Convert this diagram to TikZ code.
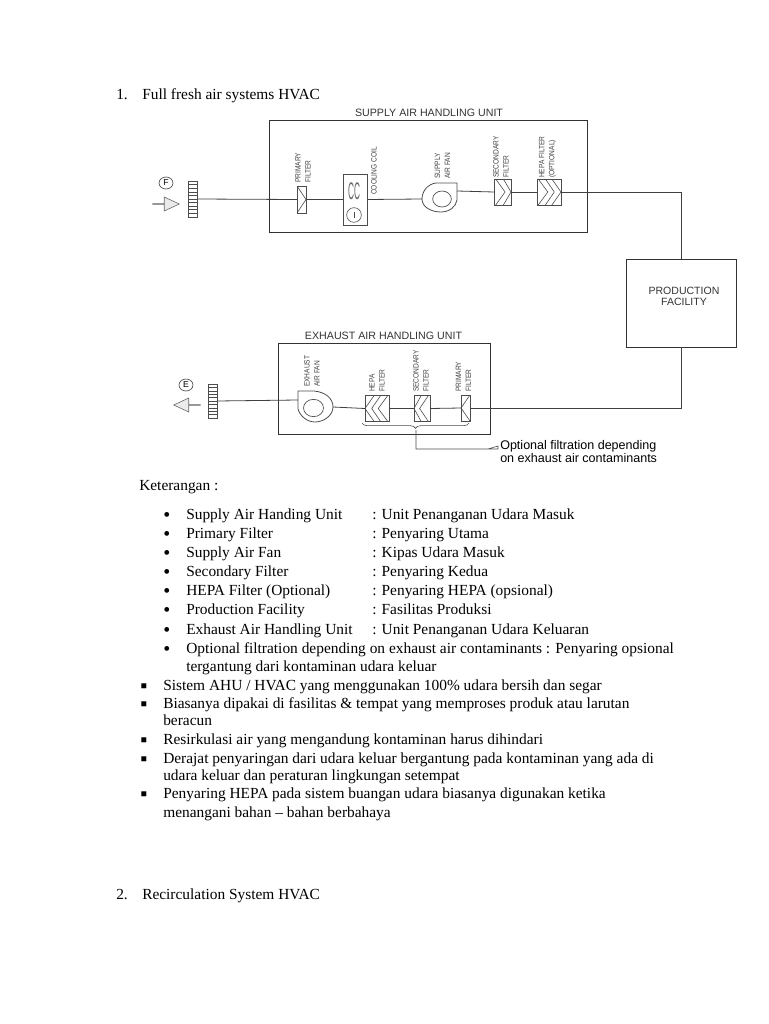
\documentclass[tikz,border=0pt]{standalone}
\usepackage{fontspec}
\setmainfont{Liberation Serif}
\setsansfont{Liberation Sans}
\usetikzlibrary{arrows.meta,positioning,calc,shapes.arrows,shapes.geometric,decorations.pathreplacing}
\newcommand{\chevron}[3]{\draw[thinline] ($(#1.north west)!#2!(#1.north east)$) -- ($(#1.west)!#3!(#1.east)$) -- ($(#1.south west)!#2!(#1.south east)$);}
\newcommand{\grilleribs}[1]{\foreach \f in {0.1,0.2,...,0.95} \draw[thinline] ($(#1.north west)!\f!(#1.south west)$) -- ($(#1.north east)!\f!(#1.south east)$);}
\begin{document}
\begin{tikzpicture}[
  x=0.75pt, y=-0.75pt,
  font=\fontsize{11.55}{13}\selectfont,
  thinline/.style={line width=0.45pt, black!70},
  arr/.style={line width=0.6pt, black!75},
  unitbox/.style={draw=black!80, line width=0.6pt, inner sep=0pt, outer sep=0pt},
  filterbox/.style={draw=black!70, line width=0.6pt, inner sep=0pt, outer sep=0pt},
  grille/.style={draw=black!70, line width=0.45pt, minimum width=6.75pt, inner sep=0pt, outer sep=0pt},
  bodytxt/.style={anchor=base west, inner sep=0pt, yshift=-0.75pt},
  dotmark/.style={bodytxt, font=\fontsize{15}{15}\selectfont, yshift=-1.5pt},
  sqmark/.style={bodytxt, font=\fontsize{15}{15}\selectfont, yshift=-1.5pt},
  unittitle/.style={font=\sffamily\fontsize{8}{9}\selectfont, black!80, inner sep=0pt},
  tag/.style={font=\sffamily\fontsize{5.8}{7.5}\selectfont, black!75, rotate=90, xscale=0.85, anchor=west, align=left, inner sep=0pt},
  badge/.style={draw=black!70, ellipse, line width=0.5pt, font=\sffamily\fontsize{6.5}{7}\selectfont, inner sep=0pt, minimum width=10.5pt, minimum height=9pt},
  hollow/.style={draw=black!60, fill=black!8, single arrow, single arrow head extend=3.5pt, line width=0.45pt, inner sep=0pt, minimum height=20pt, minimum width=10.5pt, single arrow tip angle=50},
]
\useasboundingbox (0,0) rectangle (768,1024);

% supply side
\node[bodytxt] (n1) at (116,98) {1.};
\node[bodytxt] (h1) at (142,98) {Full fresh air systems HVAC};
\node[unitbox, minimum width=238.5pt, minimum height=84pt] (sup) at (428,176) {};
\node[unittitle] (suptitle) at (429,113) {SUPPLY AIR HANDLING UNIT};
\node[grille, minimum height=27pt] (gf) at (192.5,199) {};
\grilleribs{gf}
\node[badge] (mf) at (166,183) {F};
\node[hollow] (af) at (165.5,204) {};
\node[filterbox, minimum width=6.75pt, minimum height=20.25pt] (pf) at (301.5,199.5) {};
\chevron{pf}{0}{1}
\node[tag] (pftag) at (303,183) {PRIMARY\\FILTER};
\node[filterbox, minimum width=18pt, minimum height=38.25pt] (coil) at (355,199.5) {};
\node[font=\sffamily\fontsize{10}{10}\selectfont, black!60, inner sep=0pt, xscale=0.62, yscale=1.8] (cc) at (354,191) {CC};
\node[draw=black!70, circle, line width=0.45pt, minimum size=11pt, inner sep=0pt] (cci) at (354,215) {};
\draw[thinline] ($(cci.north)!0.3!(cci.south)$) -- ($(cci.north)!0.7!(cci.south)$);
\node[tag] (cctag) at (374,195) {COOLING COIL};
\coordinate (safin) at (422,199);
\coordinate (safout) at (457,191);
\draw[filterbox] (457,183) -- (436,183) .. controls (428,184) and (422,191) .. (422,199) .. controls (422,207) and (431,212) .. (441,212) .. controls (449,212) and (456,207) .. (457,200) -- cycle;
\node[draw=black!70, ellipse, line width=0.5pt, minimum width=14pt, minimum height=12pt, inner sep=0pt] (saf) at (442,199) {};
\node[tag] (saftag) at (442.5,179) {SUPPLY\\AIR FAN};
\node[filterbox, minimum width=12.75pt, minimum height=19.5pt] (sf) at (502.5,192) {};
\chevron{sf}{0.1}{0.65}
\chevron{sf}{0.55}{1}
\node[tag] (sftag) at (501,178) {SECONDARY\\FILTER};
\node[filterbox, minimum width=18pt, minimum height=19.5pt] (hf) at (549,192) {};
\chevron{hf}{0.05}{0.45}
\chevron{hf}{0.35}{0.72}
\chevron{hf}{0.62}{1}
\node[tag] (hftag) at (547.5,178) {HEPA FILTER\\(OPTIONAL)};
\node[unitbox, minimum width=82.5pt, minimum height=66pt] (prod) at (681,303) {};
\node[font=\sffamily\fontsize{7.9}{8.4}\selectfont, align=center, black!80, inner sep=0pt] (prodtxt) at (684,296.5) {PRODUCTION\\FACILITY};
\draw[arr] (gf.east) -- (pf.west);
\draw[arr] (pf.east) -- (coil.west);
\draw[arr] (coil.east) -- (safin);
\draw[arr] (safout) -- (sf.west);
\draw[arr] (sf.east) -- (hf.west);
\draw[arr] (hf.east) -| (prod.north);

% exhaust side
\node[unitbox, minimum width=159pt, minimum height=68.25pt] (exh) at (384,388.5) {};
\node[unittitle] (exhtitle) at (383.5,336) {EXHAUST AIR HANDLING UNIT};
\node[grille, minimum height=25.5pt] (ge) at (212.5,401) {};
\grilleribs{ge}
\node[badge] (me) at (186,385) {E};
\node[hollow, shape border rotate=180] (ae) at (187.5,405) {};
\coordinate (eafin) at (333,407);
\coordinate (eafout) at (298,400);
\draw[filterbox] (298,391) -- (314,391) .. controls (325,392) and (333,398) .. (333,407) .. controls (333,416) and (323,422) .. (315,422) .. controls (307,422) and (300,416) .. (298,409) -- cycle;
\node[draw=black!70, ellipse, line width=0.5pt, minimum width=15pt, minimum height=13pt, inner sep=0pt] (eaf) at (313.5,408) {};
\node[tag] (eaftag) at (312,387) {EXHAUST\\AIR FAN};
\node[filterbox, minimum width=18pt, minimum height=19.5pt] (he) at (377,408.5) {};
\chevron{he}{0.95}{0.55}
\chevron{he}{0.65}{0.28}
\chevron{he}{0.38}{0}
\node[tag] (hetag) at (377,392) {HEPA\\FILTER};
\node[filterbox, minimum width=12pt, minimum height=19.5pt] (se) at (422,408.5) {};
\chevron{se}{0.9}{0.35}
\chevron{se}{0.45}{0}
\node[tag] (setag) at (421,392) {SECONDARY\\FILTER};
\node[filterbox, minimum width=6.75pt, minimum height=19.5pt] (pe) at (465.5,408) {};
\chevron{pe}{1}{0}
\node[tag] (petag) at (463.5,392) {PRIMARY\\FILTER};
\draw[arr] (ge.east) -- (eafout);
\draw[arr] (eafin) -- (he.west);
\draw[arr] (he.east) -- (se.west);
\draw[arr] (se.east) -- (pe.west);
\draw[arr] (prod.south) |- (pe.east);

% optional filtration note
\coordinate (brl) at (362,423);
\coordinate (brr) at (469,423);
\draw[thinline, decorate, decoration={brace, mirror, amplitude=4pt}] (brl) -- (brr);
\node[font=\sffamily\fontsize{9.4}{9.8}\selectfont, align=left, anchor=north west, inner sep=0pt] (opt) at (500,440) {Optional filtration depending\\on exhaust air contaminants};
\coordinate (brtip) at (416,430);
\coordinate (ldr) at (488,449);
\draw[thinline] (brtip) |- (ldr) -- (498,446) -- (498,449) -- (ldr);

% notes
\node[bodytxt] (ket) at (139,489) {Keterangan :};
\node[dotmark] (b1) at (163,518) {•};
\node[bodytxt] (k1) at (186,518) {Supply Air Handing Unit};
\node[bodytxt] (v1) at (372,518) {: Unit Penanganan Udara Masuk};
\node[dotmark] (b2) at (163,537) {•};
\node[bodytxt] (k2) at (186,537) {Primary Filter};
\node[bodytxt] (v2) at (372,537) {: Penyaring Utama};
\node[dotmark] (b3) at (163,556) {•};
\node[bodytxt] (k3) at (186,556) {Supply Air Fan};
\node[bodytxt] (v3) at (372,556) {: Kipas Udara Masuk};
\node[dotmark] (b4) at (163,575) {•};
\node[bodytxt] (k4) at (186,575) {Secondary Filter};
\node[bodytxt] (v4) at (372,575) {: Penyaring Kedua};
\node[dotmark] (b5) at (163,594) {•};
\node[bodytxt] (k5) at (186,594) {HEPA Filter (Optional)};
\node[bodytxt] (v5) at (372,594) {: Penyaring HEPA (opsional)};
\node[dotmark] (b6) at (163,613) {•};
\node[bodytxt] (k6) at (186,613) {Production Facility};
\node[bodytxt] (v6) at (372,613) {: Fasilitas Produksi};
\node[dotmark] (b7) at (163,633) {•};
\node[bodytxt] (k7) at (186,633) {Exhaust Air Handling Unit};
\node[bodytxt] (v7) at (372,633) {: Unit Penanganan Udara Keluaran};
\node[dotmark] (b8) at (163,652) {•};
\node[bodytxt] (k8) at (186,652) {Optional filtration depending on exhaust air contaminants : Penyaring opsional};
\node[bodytxt] (k8b) at (186,670) {tergantung dari kontaminan udara keluar};
\node[sqmark] (s1) at (140,689) {▪};
\node[bodytxt] (t1) at (163,689) {Sistem AHU / HVAC yang menggunakan 100\% udara bersih dan segar};
\node[sqmark] (s2) at (140,707) {▪};
\node[bodytxt] (t2) at (163,707) {Biasanya dipakai di fasilitas \& tempat yang memproses produk atau larutan};
\node[bodytxt] (t2b) at (163,724) {beracun};
\node[sqmark] (s3) at (140,743) {▪};
\node[bodytxt] (t3) at (163,743) {Resirkulasi air yang mengandung kontaminan harus dihindari};
\node[sqmark] (s4) at (140,762) {▪};
\node[bodytxt] (t4) at (163,762) {Derajat penyaringan dari udara keluar bergantung pada kontaminan yang ada di};
\node[bodytxt] (t4b) at (163,779) {udara keluar dan peraturan lingkungan setempat};
\node[sqmark] (s5) at (140,797) {▪};
\node[bodytxt] (t5) at (163,797) {Penyaring HEPA pada sistem buangan udara biasanya digunakan ketika};
\node[bodytxt] (t5b) at (163,816) {menangani bahan -- bahan berbahaya};
\node[bodytxt] (n2) at (116,898) {2.};
\node[bodytxt] (h2) at (142,898) {Recirculation System HVAC};
\end{tikzpicture}
\end{document}
